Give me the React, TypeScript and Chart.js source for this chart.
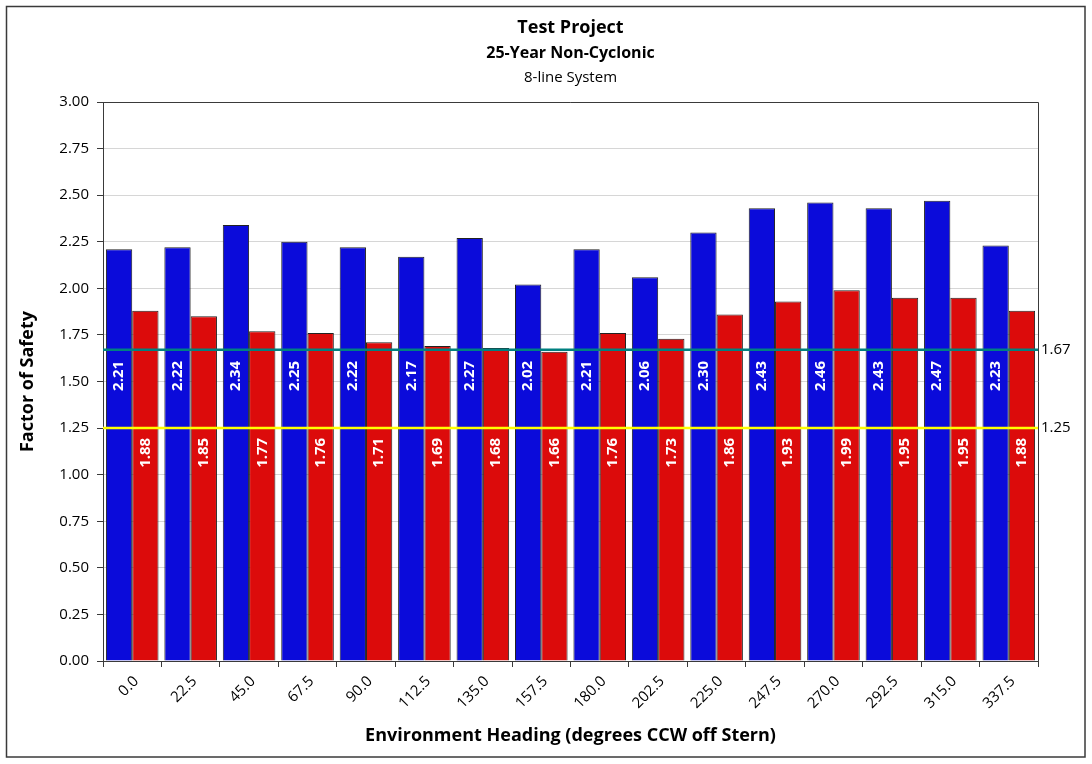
import React, { useEffect, useRef } from "react";
import { Chart, registerables } from "chart.js";

Chart.register(...registerables);

const headings = ["0.0", "22.5", "45.0", "67.5", "90.0", "112.5", "135.0", "157.5", "180.0", "202.5", "225.0", "247.5", "270.0", "292.5", "315.0", "337.5"];
const intactValues = [2.21, 2.22, 2.34, 2.25, 2.22, 2.17, 2.27, 2.02, 2.21, 2.06, 2.30, 2.43, 2.46, 2.43, 2.47, 2.23];
const damagedValues = [1.88, 1.85, 1.77, 1.76, 1.71, 1.69, 1.68, 1.66, 1.76, 1.73, 1.86, 1.93, 1.99, 1.95, 1.95, 1.88];
const limitValues = [1.67, 1.25];
const titleLines = ["Test Project", "25-Year Non-Cyclonic", "8-line System"];
const yAxisTitle = "Factor of Safety";
const xAxisTitle = "Environment Heading (degrees CCW off Stern)";
const yMin = 0;
const yMax = 3;
const yStep = 0.25;

const FONT = "'Open Sans', 'Noto Sans', sans-serif";
const BLUE = "#0b0bda";
const RED = "#dc0b0b";
const LIMIT_COLORS = ["#008080", "#ffff00"];
const LABEL_ANCHORS = [1.53, 1.117];

const decoPlugin = {
  id: "deco",
  beforeDraw(chart: any) {
    const { ctx, width, height } = chart;
    ctx.save();
    ctx.fillStyle = "#ffffff";
    ctx.fillRect(0, 0, width, height);
    ctx.strokeStyle = "#3a3a3a";
    ctx.lineWidth = 1.5;
    ctx.strokeRect(6.5, 6.5, 1078.5, 750.5);
    ctx.restore();
  },
  afterDatasetsDraw(chart: any) {
    const { ctx, chartArea: a, scales } = chart;
    const y = scales.y;
    const x = scales.x;
    ctx.save();
    // frame top & right
    ctx.strokeStyle = "#3a3a3a";
    ctx.lineWidth = 1;
    ctx.beginPath();
    ctx.moveTo(a.left, a.top + 0.5);
    ctx.lineTo(a.right + 0.5, a.top + 0.5);
    ctx.lineTo(a.right + 0.5, a.bottom);
    ctx.stroke();
    // limit lines
    limitValues.forEach((v, i) => {
      const py = y.getPixelForValue(v);
      ctx.strokeStyle = LIMIT_COLORS[i];
      ctx.lineWidth = 2.5;
      ctx.beginPath();
      ctx.moveTo(a.left, py);
      ctx.lineTo(a.right, py);
      ctx.stroke();
      ctx.fillStyle = "#000";
      ctx.font = `15px ${FONT}`;
      ctx.textAlign = "left";
      ctx.textBaseline = "middle";
      ctx.fillText(v.toFixed(2), a.right + 3, py);
    });
    // value labels
    chart.data.datasets.forEach((ds: any, i: number) => {
      const meta = chart.getDatasetMeta(i);
      const anchorY = y.getPixelForValue(LABEL_ANCHORS[i]);
      meta.data.forEach((bar: any, j: number) => {
        ctx.save();
        ctx.translate(bar.x, anchorY);
        ctx.rotate(-Math.PI / 2);
        ctx.fillStyle = "#ffffff";
        ctx.font = `bold 15px ${FONT}`;
        ctx.textAlign = "center";
        ctx.textBaseline = "middle";
        ctx.fillText(Number(ds.data[j]).toFixed(2), 0, 0);
        ctx.restore();
      });
    });
    // x tick labels
    headings.forEach((h, j) => {
      const px = x.getPixelForValue(j);
      ctx.save();
      ctx.translate(px + 4, a.bottom + 18);
      ctx.rotate(-Math.PI / 4);
      ctx.fillStyle = "#000";
      ctx.font = `15px ${FONT}`;
      ctx.textAlign = "right";
      ctx.textBaseline = "middle";
      ctx.fillText(h, 0, 0);
      ctx.restore();
    });
    ctx.restore();
  },
  afterDraw(chart: any) {
    const { ctx, chartArea: a } = chart;
    const cx = (a.left + a.right) / 2;
    ctx.save();
    ctx.fillStyle = "#000";
    ctx.textAlign = "center";
    ctx.textBaseline = "middle";
    ctx.font = `bold 18px ${FONT}`;
    ctx.fillText(titleLines[0], cx, 28);
    ctx.font = `bold 16px ${FONT}`;
    ctx.fillText(titleLines[1], cx, 53);
    ctx.font = `15px ${FONT}`;
    ctx.fillText(titleLines[2], cx, 78);
    ctx.font = `bold 18px ${FONT}`;
    ctx.fillText(xAxisTitle, cx, 736);
    ctx.translate(28, (a.top + a.bottom) / 2);
    ctx.rotate(-Math.PI / 2);
    ctx.fillText(yAxisTitle, 0, 0);
    ctx.restore();
  },
};

export default function App() {
  const ref = useRef<HTMLCanvasElement | null>(null);
  useEffect(() => {
    if (!ref.current) return;
    const chart = new Chart(ref.current, {
      type: "bar",
      data: {
        labels: headings,
        datasets: [
          {
            label: "Intact",
            data: intactValues,
            backgroundColor: BLUE,
            borderColor: "#222222",
            borderWidth: 1,
            borderSkipped: "bottom",
            categoryPercentage: 0.9,
            barPercentage: 1.0,
          },
          {
            label: "Damaged",
            data: damagedValues,
            backgroundColor: RED,
            borderColor: "#222222",
            borderWidth: 1,
            borderSkipped: "bottom",
            categoryPercentage: 0.9,
            barPercentage: 1.0,
          },
        ],
      },
      options: {
        responsive: false,
        animation: false,
        devicePixelRatio: 1,
        layout: { padding: { left: 0, top: 102, right: 54, bottom: 0 } },
        plugins: {
          legend: { display: false },
          tooltip: { enabled: false },
          title: { display: false },
        },
        scales: {
          x: {
            offset: true,
            grid: {
              offset: true,
              drawOnChartArea: false,
              drawTicks: true,
              tickLength: 6,
              color: "#3a3a3a",
              tickColor: "#3a3a3a",
            },
            border: { color: "#3a3a3a", width: 1 },
            ticks: {
              display: false,
            },
            afterFit(scale: any) {
              scale.height = 103;
            },
          },
          y: {
            min: yMin,
            max: yMax,
            grid: {
              color: "#d6d6d6",
              tickColor: "#3a3a3a",
              tickLength: 6,
            },
            border: { color: "#3a3a3a", width: 1 },
            ticks: {
              stepSize: yStep,
              padding: 8,
              color: "#000",
              font: { family: FONT, size: 15 },
              callback: (v: any) => Number(v).toFixed(2),
            },
            afterFit(scale: any) {
              scale.width = 103;
            },
          },
        },
      },
      plugins: [decoPlugin],
    } as any);
    return () => chart.destroy();
  }, []);
  return (
    <div style={{ position: "fixed", left: 0, top: 0, width: 1092, height: 764, background: "#fff" }}>
      <canvas ref={ref} width={1092} height={764} style={{ display: "block" }} />
    </div>
  );
}
